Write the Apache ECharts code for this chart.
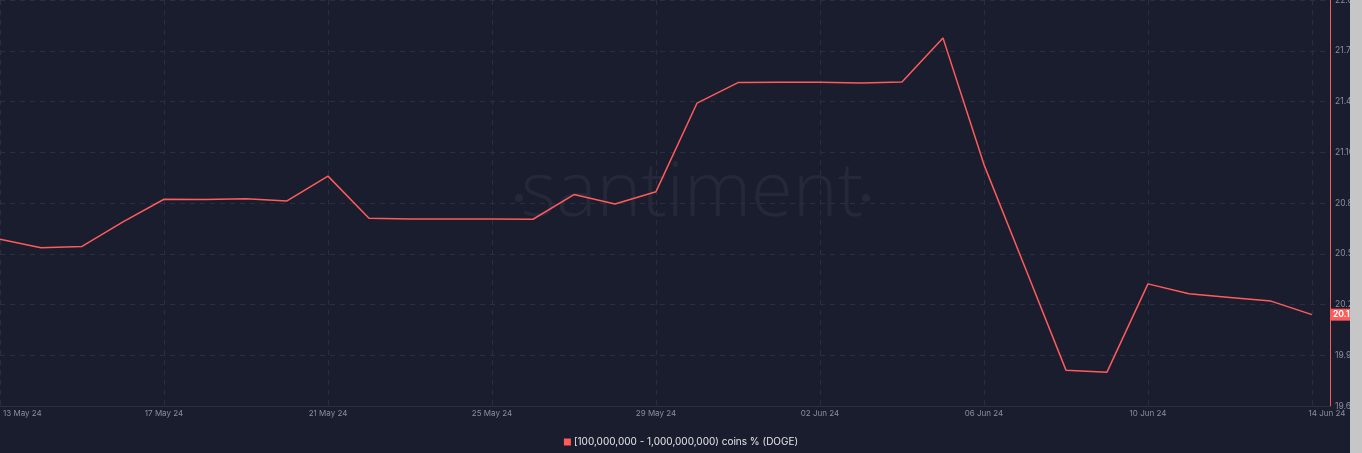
<!DOCTYPE html>
<html>
<head>
<meta charset="utf-8">
<script src="https://cdn.jsdelivr.net/npm/echarts@6/dist/echarts.min.js"></script>
<style>
html,body{margin:0;padding:0;background:#1a1d2e;}
#chart{width:1362px;height:453px;}
</style>
</head>
<body>
<div id="chart"></div>
<script>
const dates = ['13 May 24','14 May 24','15 May 24','16 May 24','17 May 24','18 May 24','19 May 24','20 May 24',
  '21 May 24','22 May 24','23 May 24','24 May 24','25 May 24','26 May 24','27 May 24','28 May 24',
  '29 May 24','30 May 24','31 May 24','01 Jun 24','02 Jun 24','03 Jun 24','04 Jun 24','05 Jun 24',
  '06 Jun 24','07 Jun 24','08 Jun 24','09 Jun 24','10 Jun 24','11 Jun 24','12 Jun 24','13 Jun 24','14 Jun 24'];
const holdings = [20.586,20.535,20.543,20.688,20.822,20.820,20.825,20.812,
  20.959,20.710,20.706,20.705,20.706,20.704,20.850,20.794,
  20.867,21.390,21.512,21.514,21.514,21.510,21.515,21.776,
  21.027,20.420,19.812,19.800,20.322,20.263,20.241,20.220,20.140];
const yTicks = [19.6,19.9,20.2,20.5,20.8,21.1,21.4,21.7,22.0];
const seriesName = '[100,000,000 - 1,000,000,000) coins % (DOGE)';

const RED = '#ff5b5b';
const WM = 'rgba(255,255,255,0.05)';
const points = holdings.map((v, i) => [i, v]);
const lastIdx = dates.length - 1;
const chart = echarts.init(document.getElementById('chart'), null, {renderer:'canvas'});
chart.setOption({
  backgroundColor:'#1a1d2e',
  animation:false,
  textStyle:{fontFamily:'Inter, Roboto, sans-serif'},
  grid:{left:0, right:32, top:0, bottom:47, containLabel:false, outerBoundsMode:'none'},
  graphic:[
    {type:'text', z:-10, silent:true, x:692, y:194,
      style:{text:'santiment', fill:WM,
        font:'300 76px "Open Sans", sans-serif', align:'center', verticalAlign:'middle'}},
    {type:'circle', z:-10, silent:true, shape:{cx:519, cy:198, r:4}, style:{fill:WM}},
    {type:'circle', z:-10, silent:true, shape:{cx:866, cy:198, r:4}, style:{fill:WM}},
    {type:'rect', z:1000, silent:true, shape:{x:1350, y:0, width:12, height:453},
      style:{fill:'#c6c6c6'}}
  ],
  legend:{
    top:432, left:'center', icon:'rect', itemWidth:7, itemHeight:7, itemGap:5,
    textStyle:{color:'#e4e4e8', fontSize:10, fontFamily:'Inter, Roboto, sans-serif', padding:[0,0,0,-2]},
    data:[seriesName]
  },
  xAxis:{
    type:'value', min:0, max:32.44, interval:4,
    axisLine:{show:true, onZero:false, lineStyle:{color:'#2b2f42', width:1}},
    axisTick:{show:false},
    axisLabel:{color:'#8a8ea0', fontSize:8, margin:4,
      formatter:v=>{
        if (!Number.isInteger(v) || !dates[v]) return '';
        if (v === lastIdx) return '{last|' + dates[v] + '}';
        if (v === 0) return '{first|' + dates[v] + '}';
        return dates[v];
      },
      rich:{
        last:{color:'#8a8ea0', fontSize:8, padding:[0,0,0,30]},
        first:{color:'#8a8ea0', fontSize:8, padding:[0,0,0,3]}
      },
      alignMinLabel:'left', showMinLabel:true, showMaxLabel:false},
    splitLine:{show:true, lineStyle:{color:'#2a2e41', type:[5,5], width:1}}
  },
  yAxis:{
    type:'value', position:'right', min:19.6, max:22.0, scale:true,
    axisLine:{show:true, onZero:false, lineStyle:{color:RED, width:1}},
    axisTick:{show:false, customValues:yTicks},
    axisLabel:{customValues:yTicks, color:'#8a8ea0', fontSize:8.5, margin:5,
      formatter:v=>v.toFixed(2)},
    splitLine:{show:true, lineStyle:{color:'#2a2e41', type:[5,5], width:1}}
  },
  series:[{
    name:seriesName, type:'line', data:points, showSymbol:false, symbol:'none',
    itemStyle:{color:RED},
    lineStyle:{color:RED, width:1.5},
    markLine:{
      silent:true, symbol:'none', lineStyle:{color:'rgba(0,0,0,0)', width:0},
      data:[{yAxis:holdings[holdings.length-1]}],
      label:{show:true, position:'end', distance:1, formatter:p=>Number(p.value).toFixed(2),
        backgroundColor:RED, color:'#ffffff', fontSize:8.5, fontWeight:'bold', padding:[2,2,1,2]}
    }
  }]
});
</script>
</body>
</html>
